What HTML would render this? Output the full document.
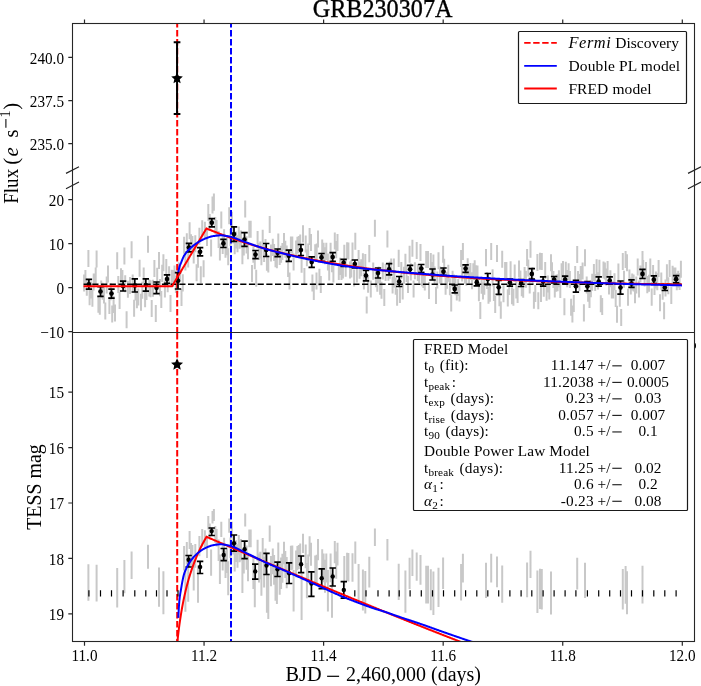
<!DOCTYPE html><html><head><meta charset="utf-8"><style>html,body{margin:0;padding:0;background:#fff;}svg{display:block;will-change:transform;}</style></head><body>
<svg width="701" height="686" viewBox="0 0 701 686" style="font-family:'Liberation Serif', serif">
<rect width="701" height="686" fill="#fff"/>
<defs><clipPath id="cu"><rect x="72.5" y="23.5" width="622.0" height="309.0"/></clipPath><clipPath id="cl"><rect x="72.5" y="332.5" width="622.0" height="309.0"/></clipPath></defs>
<g clip-path="url(#cu)">
<path d="M84.1 274.5V291.5M85.4 269.9V286.9M86.8 278.7V295.7M88.4 250.1V267.1M89.6 288.2V305.3M91.0 281.5V298.5M92.4 289.8V306.8M93.7 273.6V290.6M95.7 267.5V284.5M96.6 250.4V267.4M98.4 295.8V312.8M99.8 297.8V314.8M101.2 280.6V297.7M102.6 282.7V299.7M104.0 286.6V303.6M105.3 302.6V319.6M106.7 276.6V293.6M108.0 265.4V282.5M109.4 296.9V313.9M110.8 283.2V300.3M112.2 305.5V322.5M113.6 296.1V313.1M115.0 304.6V321.6M117.2 252.3V269.3M118.3 276.0V293.0M119.6 291.9V309.0M121.0 268.2V285.2M122.4 270.0V287.0M124.4 247.4V264.4M125.2 275.3V292.3M126.6 311.2V328.3M127.9 280.7V297.7M130.0 276.9V293.9M131.6 241.2V258.2M132.7 274.4V291.4M134.1 299.7V316.7M135.5 283.5V300.5M136.9 291.2V308.2M138.3 288.6V305.6M139.6 259.7V276.8M141.0 293.7V310.7M142.3 281.8V298.8M143.7 267.6V284.6M145.1 290.3V307.3M146.5 283.0V300.0M148.0 235.8V252.8M149.3 279.5V296.6M150.6 280.3V297.3M151.7 299.9V316.9M153.0 279.8V296.8M154.4 260.0V277.0M155.8 304.9V321.9M157.2 267.7V284.7M159.0 252.1V269.1M160.0 279.1V296.2M161.3 290.9V307.9M162.2 264.8V281.9M163.4 254.2V271.2M164.9 280.4V297.4M166.3 258.9V275.9M167.7 275.2V292.3M169.1 266.2V283.2M170.5 295.1V312.1M171.8 269.8V286.8M173.2 269.9V287.0M174.5 265.5V282.5M175.9 275.8V292.9M177.3 276.3V293.3M178.7 262.3V279.3M180.1 265.1V282.1M181.5 289.1V306.1M182.8 274.3V291.4M184.1 236.7V253.7M185.4 253.5V270.5M186.8 233.2V250.3M188.2 250.5V267.5M189.6 222.2V239.3M191.0 234.3V251.3M192.4 235.9V252.9M193.7 246.4V263.4M195.3 235.2V252.2M196.6 264.2V281.2M198.0 250.8V267.8M199.4 227.7V244.8M200.8 266.2V283.2M202.2 220.3V237.3M203.6 260.3V277.3M204.9 221.7V238.7M207.0 228.9V246.0M208.3 203.9V220.9M209.7 213.9V230.9M211.1 239.6V256.6M212.5 196.6V213.6M213.9 193.6V210.7M215.3 216.9V233.9M216.6 220.1V237.1M218.6 230.9V248.0M219.9 243.5V260.5M221.3 211.5V228.5M222.7 236.8V253.9M224.1 229.3V246.3M225.5 240.7V257.7M226.9 238.1V255.2M228.2 248.2V265.2M229.2 207.2V224.2M230.5 228.9V246.0M231.9 211.7V228.7M233.3 226.4V243.4M234.7 237.3V254.3M236.1 231.6V248.6M237.5 235.2V252.2M238.8 226.4V243.5M239.7 231.8V248.8M241.0 230.6V247.6M242.4 247.3V264.3M243.8 238.4V255.5M245.2 200.5V217.5M246.6 236.3V253.4M248.0 242.3V259.3M249.3 220.8V237.8M250.7 220.8V237.8M252.0 264.9V282.0M253.4 245.7V262.7M254.8 252.2V269.3M256.2 269.7V286.7M257.6 231.1V248.2M259.0 242.9V259.9M260.3 241.4V258.4M261.4 248.3V265.3M262.7 229.7V246.7M264.1 245.0V262.1M265.5 238.9V255.9M266.9 253.8V270.8M268.3 255.5V272.5M269.7 216.1V233.1M271.0 244.5V261.6M272.8 238.8V255.9M274.1 243.9V260.9M275.5 250.1V267.2M276.9 251.2V268.2M278.3 233.6V250.6M279.7 248.0V265.0M281.1 245.7V262.7M282.4 243.0V260.0M284.0 233.1V250.1M285.3 240.8V257.8M286.7 245.4V262.4M288.1 260.0V277.0M289.5 272.6V289.6M290.9 236.6V253.6M292.3 236.4V253.4M293.6 253.5V270.5M296.1 240.4V257.4M297.4 236.7V253.7M298.8 235.9V252.9M300.2 234.5V251.5M301.6 255.8V272.8M303.0 225.3V242.4M304.4 268.0V285.0M305.7 235.4V252.4M306.9 249.2V266.3M308.2 243.4V260.4M309.6 227.9V244.9M311.0 234.0V251.0M312.4 274.5V291.6M313.8 282.9V300.0M315.2 244.3V261.3M316.5 272.5V289.6M316.7 243.6V260.6M318.0 230.5V247.5M319.4 268.8V285.8M320.8 276.0V293.0M322.2 239.4V256.4M323.6 242.7V259.8M325.0 247.2V264.2M326.3 242.8V259.9M327.9 253.5V270.5M329.2 263.5V280.6M330.6 242.8V259.8M332.0 255.2V272.2M333.4 265.5V282.6M334.8 232.4V249.4M336.2 241.1V258.2M337.5 233.9V250.9M338.8 263.0V280.0M340.1 257.8V274.9M341.5 263.1V280.1M342.9 261.4V278.4M344.3 244.7V261.7M345.7 259.8V276.8M347.1 242.2V259.2M348.4 242.4V259.5M350.0 261.6V278.6M351.3 260.3V277.4M352.5 242.5V259.6M354.1 269.5V286.5M355.3 232.7V249.8M356.9 265.5V282.6M358.6 249.9V267.0M359.6 261.7V278.7M361.2 259.2V276.2M362.9 253.2V270.2M363.9 272.4V289.4M365.3 254.1V271.1M366.7 296.5V313.5M368.1 275.8V292.8M369.3 245.1V262.2M370.8 280.5V297.6M373.2 262.6V279.7M374.9 219.7V236.8M375.9 270.2V287.2M377.3 274.6V291.7M378.7 266.6V283.6M380.1 277.7V294.8M381.5 281.8V298.8M382.8 262.6V279.6M384.3 288.9V306.0M385.6 264.1V281.1M387.4 230.6V247.6M388.4 263.7V280.7M389.8 261.6V278.7M391.2 258.4V275.4M392.6 276.4V293.4M393.9 258.4V275.4M394.4 270.4V287.5M395.7 277.7V294.7M397.1 288.8V305.8M398.7 249.8V266.9M399.9 285.9V302.9M401.3 262.1V279.1M402.7 282.5V299.6M404.0 266.7V283.7M405.4 253.8V270.9M406.6 264.9V282.0M408.0 275.9V292.9M409.6 245.7V262.8M410.8 263.3V280.4M412.4 239.8V256.8M413.6 280.5V297.5M414.9 262.2V279.3M416.7 242.1V259.1M417.8 264.0V281.0M419.2 266.0V283.0M420.5 243.9V261.0M422.0 269.3V286.3M423.4 270.9V287.9M424.8 273.5V290.5M426.2 251.0V268.1M428.0 251.0V268.1M429.0 282.0V299.1M430.8 253.1V270.2M431.8 262.0V279.0M433.4 254.4V271.4M434.6 266.6V283.7M436.0 287.1V304.1M437.3 271.6V288.6M438.5 252.2V269.2M440.0 266.4V283.4M441.4 268.2V285.3M443.1 245.7V262.7M444.2 258.7V275.7M445.6 277.8V294.8M447.0 271.7V288.8M448.3 264.8V281.8M449.9 278.3V295.3M451.2 294.5V311.5M452.6 270.8V287.8M454.0 274.5V291.5M455.4 278.3V295.3M456.8 283.5V300.5M458.2 278.9V295.9M459.5 284.4V301.5M461.1 250.0V267.0M462.1 264.3V281.4M462.9 242.9V259.9M464.9 266.7V283.7M466.3 268.7V285.7M467.7 258.3V275.4M469.1 266.7V283.7M470.4 263.0V280.0M472.0 272.2V289.2M473.3 263.3V280.3M474.7 260.2V277.3M476.1 265.3V282.3M477.5 265.4V282.4M478.9 284.3V301.3M480.3 302.0V319.0M481.6 276.8V293.8M483.0 282.4V299.4M484.3 277.7V294.7M486.0 249.1V266.2M487.1 271.9V288.9M488.5 286.8V303.8M489.9 284.8V301.8M491.2 242.9V259.9M492.6 269.2V286.2M493.9 284.1V301.1M495.2 296.0V313.0M497.0 245.0V262.0M498.0 278.2V295.2M499.4 289.3V306.3M500.8 301.6V318.7M502.2 250.8V267.8M503.5 285.3V302.3M505.1 261.9V278.9M506.4 261.9V278.9M507.8 289.3V306.4M509.2 278.0V295.1M510.6 261.2V278.3M512.0 287.3V304.3M513.4 288.7V305.7M514.7 264.4V281.4M516.3 281.4V298.4M517.6 285.9V302.9M519.0 260.6V277.6M520.4 270.4V287.4M521.8 279.3V296.3M523.2 280.7V297.7M524.6 267.1V284.1M525.9 270.7V287.7M527.1 248.9V265.9M528.3 259.4V276.4M529.7 276.6V293.6M530.5 240.7V257.7M532.5 266.9V283.9M533.9 291.7V308.7M535.3 285.1V302.1M537.4 253.9V270.9M538.3 292.2V309.2M540.0 252.8V269.8M541.0 285.1V302.1M541.8 252.9V270.0M543.8 279.8V296.8M545.2 261.9V278.9M546.6 283.7V300.7M547.9 275.6V292.6M549.3 282.5V299.5M551.0 254.3V271.3M552.0 262.2V279.3M553.4 270.9V287.9M554.8 280.4V297.4M556.2 274.7V291.8M557.6 274.2V291.2M558.9 270.3V287.3M560.3 281.0V298.1M561.6 263.2V280.2M563.0 261.1V278.1M564.4 298.2V315.2M565.8 261.8V278.8M567.2 270.1V287.2M568.6 263.2V280.3M569.9 270.9V287.9M571.1 298.7V315.7M572.4 305.6V322.6M573.8 295.0V312.0M575.2 266.1V283.1M577.2 245.9V262.9M578.0 271.0V288.0M579.4 274.1V291.1M580.7 265.9V282.9M582.6 262.6V279.6M583.9 304.3V321.4M585.0 249.2V266.2M586.7 276.5V293.5M588.1 284.7V301.7M589.5 290.9V307.9M590.9 280.3V297.3M592.2 273.8V290.8M593.9 264.0V281.0M595.2 273.9V291.0M596.6 259.2V276.2M598.0 272.3V289.4M599.4 259.8V276.8M600.8 295.3V312.3M602.2 297.9V314.9M603.5 261.6V278.6M604.9 262.4V279.5M606.2 268.6V285.6M607.6 260.9V277.9M609.0 277.6V294.6M610.4 270.3V287.3M611.8 281.4V298.5M613.2 281.3V298.4M614.5 273.3V290.3M615.7 289.9V306.9M617.0 305.8V322.8M618.4 263.5V280.5M619.8 289.8V306.8M621.2 309.1V326.1M622.8 252.9V269.9M624.0 270.7V287.7M625.6 251.1V268.1M627.0 254.2V271.3M628.0 288.8V305.8M629.4 269.4V286.4M630.8 277.5V294.5M632.2 273.4V290.4M633.6 274.6V291.6M635.0 286.1V303.2M636.3 276.6V293.6M637.7 258.6V275.6M639.0 280.4V297.4M640.4 265.5V282.5M642.5 251.1V268.1M643.2 260.0V277.0M644.6 269.6V286.6M646.0 261.9V278.9M647.3 276.1V293.2M649.0 274.7V291.7M650.3 258.6V275.6M651.7 288.6V305.7M653.1 265.0V282.0M654.5 277.9V294.9M655.9 271.4V288.4M657.3 273.3V290.3M658.6 260.0V277.0M660.0 294.3V311.3M661.3 272.6V289.7M662.7 282.7V299.7M664.1 302.2V319.2M665.5 279.6V296.6M666.9 264.2V281.2M668.3 277.2V294.3M669.6 259.9V276.9M671.3 286.9V303.9M672.6 265.8V282.9M674.0 267.6V284.6M675.4 267.4V284.4M676.8 273.3V290.3M678.2 270.7V287.7M679.6 273.0V290.0M680.9 260.8V277.8" stroke="#c8c8c8" stroke-width="2" fill="none"/>
<line x1="83.6" y1="284.3" x2="682" y2="284.3" stroke="#000" stroke-width="1.6" stroke-dasharray="6.2 2.5"/>
<line x1="177.2" y1="332.5" x2="177.2" y2="23.5" stroke="#ff0000" stroke-width="2" stroke-dasharray="6.4 2.6" stroke-dashoffset="1"/>
<line x1="231.0" y1="332.5" x2="231.0" y2="23.5" stroke="#0000ff" stroke-width="2" stroke-dasharray="6.4 2.6" stroke-dashoffset="1"/>
<path d="M88.9 279.4V289.2M85.7 279.4H92.1M85.7 289.2H92.1M100.5 286.6V296.4M97.3 286.6H103.7M97.3 296.4H103.7M111.5 289.1V298.1M108.3 289.1H114.7M108.3 298.1H114.7M123.1 281.2V291.0M119.9 281.2H126.3M119.9 291.0H126.3M134.8 278.8V292.0M131.6 278.8H138.0M131.6 292.0H138.0M145.8 278.8V291.2M142.6 278.8H149.0M142.6 291.2H149.0M156.5 282.0V293.6M153.3 282.0H159.7M153.3 293.6H159.7M167.0 274.8V283.4M163.8 274.8H170.2M163.8 283.4H170.2M178.0 272.6V289.0M174.8 272.6H181.2M174.8 289.0H181.2M188.9 243.4V251.8M185.7 243.4H192.1M185.7 251.8H192.1M200.1 247.7V255.9M196.9 247.7H203.3M196.9 255.9H203.3M211.8 218.6V226.8M208.6 218.6H215.0M208.6 226.8H215.0M223.4 239.3V247.5M220.2 239.3H226.6M220.2 247.5H226.6M234.0 226.9V241.3M230.8 226.9H237.2M230.8 241.3H237.2M244.5 232.7V246.3M241.3 232.7H247.7M241.3 246.3H247.7M255.5 250.5V258.7M252.3 250.5H258.7M252.3 258.7H258.7M266.2 243.5V256.5M263.0 243.5H269.4M263.0 256.5H269.4M277.6 249.0V256.6M274.4 249.0H280.8M274.4 256.6H280.8M288.8 250.2V261.4M285.6 250.2H292.0M285.6 261.4H292.0M300.9 244.5V255.5M297.7 244.5H304.1M297.7 255.5H304.1M311.7 256.9V267.3M308.5 256.9H314.9M308.5 267.3H314.9M321.5 253.5V261.3M318.3 253.5H324.7M318.3 261.3H324.7M332.7 252.6V261.4M329.5 252.6H335.9M329.5 261.4H335.9M343.6 259.3V266.3M340.4 259.3H346.8M340.4 266.3H346.8M354.8 260.0V268.0M351.6 260.0H358.0M351.6 268.0H358.0M366.0 270.4V280.8M362.8 270.4H369.2M362.8 280.8H369.2M378.0 268.0V278.0M374.8 268.0H381.2M374.8 278.0H381.2M389.1 263.7V274.9M385.9 263.7H392.3M385.9 274.9H392.3M399.2 276.5V286.5M396.0 276.5H402.4M396.0 286.5H402.4M410.1 265.4V273.2M406.9 265.4H413.3M406.9 273.2H413.3M421.3 264.5V272.7M418.1 264.5H424.5M418.1 272.7H424.5M432.5 269.0V280.0M429.3 269.0H435.7M429.3 280.0H435.7M443.5 268.0V275.4M440.3 268.0H446.7M440.3 275.4H446.7M454.7 285.0V292.8M451.5 285.0H457.9M451.5 292.8H457.9M465.6 264.8V272.4M462.4 264.8H468.8M462.4 272.4H468.8M476.8 278.5V285.9M473.6 278.5H480.0M473.6 285.9H480.0M487.8 273.5V284.7M484.6 273.5H491.0M484.6 284.7H491.0M498.7 280.3V294.3M495.5 280.3H501.9M495.5 294.3H501.9M509.9 279.1V286.1M506.7 279.1H513.1M506.7 286.1H513.1M521.1 279.5V286.5M517.9 279.5H524.3M517.9 286.5H524.3M531.8 268.7V279.1M528.6 268.7H535.0M528.6 279.1H535.0M543.1 276.9V286.1M539.9 276.9H546.3M539.9 286.1H546.3M554.1 276.5V282.9M550.9 276.5H557.3M550.9 282.9H557.3M565.1 276.1V283.3M561.9 276.1H568.3M561.9 283.3H568.3M575.9 280.4V292.2M572.7 280.4H579.1M572.7 292.2H579.1M587.4 281.7V290.9M584.2 281.7H590.6M584.2 290.9H590.6M598.7 276.9V286.1M595.5 276.9H601.9M595.5 286.1H601.9M609.7 276.9V284.1M606.5 276.9H612.9M606.5 284.1H612.9M620.5 281.0V294.2M617.3 281.0H623.7M617.3 294.2H623.7M631.5 279.9V287.3M628.3 279.9H634.7M628.3 287.3H634.7M642.5 269.3V278.5M639.3 269.3H645.7M639.3 278.5H645.7M653.8 275.8V283.6M650.6 275.8H657.0M650.6 283.6H657.0M664.8 284.7V290.5M661.6 284.7H668.0M661.6 290.5H668.0M676.1 275.6V282.8M672.9 275.6H679.3M672.9 282.8H679.3" stroke="#000" stroke-width="1.7" fill="none"/>
<g fill="#000"><circle cx="88.9" cy="284.3" r="2.35"/><circle cx="100.5" cy="291.5" r="2.35"/><circle cx="111.5" cy="293.6" r="2.35"/><circle cx="123.1" cy="286.1" r="2.35"/><circle cx="134.8" cy="285.4" r="2.35"/><circle cx="145.8" cy="285.0" r="2.35"/><circle cx="156.5" cy="287.8" r="2.35"/><circle cx="167.0" cy="279.1" r="2.35"/><circle cx="178.0" cy="280.8" r="2.35"/><circle cx="188.9" cy="247.6" r="2.35"/><circle cx="200.1" cy="251.8" r="2.35"/><circle cx="211.8" cy="222.7" r="2.35"/><circle cx="223.4" cy="243.4" r="2.35"/><circle cx="234.0" cy="234.1" r="2.35"/><circle cx="244.5" cy="239.5" r="2.35"/><circle cx="255.5" cy="254.6" r="2.35"/><circle cx="266.2" cy="250.0" r="2.35"/><circle cx="277.6" cy="252.8" r="2.35"/><circle cx="288.8" cy="255.8" r="2.35"/><circle cx="300.9" cy="250.0" r="2.35"/><circle cx="311.7" cy="262.1" r="2.35"/><circle cx="321.5" cy="257.4" r="2.35"/><circle cx="332.7" cy="257.0" r="2.35"/><circle cx="343.6" cy="262.8" r="2.35"/><circle cx="354.8" cy="264.0" r="2.35"/><circle cx="366.0" cy="275.6" r="2.35"/><circle cx="378.0" cy="273.0" r="2.35"/><circle cx="389.1" cy="269.3" r="2.35"/><circle cx="399.2" cy="281.5" r="2.35"/><circle cx="410.1" cy="269.3" r="2.35"/><circle cx="421.3" cy="268.6" r="2.35"/><circle cx="432.5" cy="274.5" r="2.35"/><circle cx="443.5" cy="271.7" r="2.35"/><circle cx="454.7" cy="288.9" r="2.35"/><circle cx="465.6" cy="268.6" r="2.35"/><circle cx="476.8" cy="282.2" r="2.35"/><circle cx="487.8" cy="279.1" r="2.35"/><circle cx="498.7" cy="287.3" r="2.35"/><circle cx="509.9" cy="282.6" r="2.35"/><circle cx="521.1" cy="283.0" r="2.35"/><circle cx="531.8" cy="273.9" r="2.35"/><circle cx="543.1" cy="281.5" r="2.35"/><circle cx="554.1" cy="279.7" r="2.35"/><circle cx="565.1" cy="279.7" r="2.35"/><circle cx="575.9" cy="286.3" r="2.35"/><circle cx="587.4" cy="286.3" r="2.35"/><circle cx="598.7" cy="281.5" r="2.35"/><circle cx="609.7" cy="280.5" r="2.35"/><circle cx="620.5" cy="287.6" r="2.35"/><circle cx="631.5" cy="283.6" r="2.35"/><circle cx="642.5" cy="273.9" r="2.35"/><circle cx="653.8" cy="279.7" r="2.35"/><circle cx="664.8" cy="287.6" r="2.35"/><circle cx="676.1" cy="279.2" r="2.35"/></g>
<path d="M177.05 42.3V114M173.7 42.3H180.4M173.7 114H180.4" stroke="#000" stroke-width="2" fill="none"/>
<path d="M83.50 286.32 L172.00 286.32 L172.50 285.48 L173.00 284.64 L173.50 283.80 L174.00 282.96 L174.50 282.13 L175.00 281.29 L175.50 280.45 L176.00 279.61 L176.50 278.77 L177.00 277.93 L177.50 277.09 L178.00 276.25 L178.50 275.41 L179.00 274.57 L179.50 273.73 L180.00 272.89 L180.50 272.06 L181.00 271.22 L181.50 270.38 L182.00 269.54 L182.50 268.70 L183.00 267.86 L183.50 267.02 L184.00 266.18 L184.50 265.34 L185.00 264.50 L185.50 263.66 L186.00 262.82 L186.50 261.98 L187.00 261.15 L187.50 260.31 L188.00 259.47 L188.50 258.63 L189.00 257.79 L189.50 256.95 L190.00 256.11 L190.50 255.27 L191.00 254.43 L191.50 253.59 L192.00 252.75 L192.50 251.91 L193.00 251.08 L193.50 250.24 L194.00 249.40 L194.50 248.56 L195.00 247.72 L195.50 246.88 L196.00 246.04 L196.50 245.20 L197.00 244.36 L197.50 243.52 L198.00 242.68 L198.50 241.84 L199.00 241.01 L199.50 240.17 L200.00 239.33 L200.50 238.49 L201.00 237.65 L201.50 236.81 L202.00 235.97 L202.50 235.13 L203.00 234.29 L203.50 233.45 L204.00 232.61 L204.50 231.77 L205.00 230.94 L205.50 230.10 L206.00 229.26 L206.50 228.42 L207.00 228.63 L208.00 229.05 L209.00 229.47 L210.00 229.88 L211.00 230.29 L212.00 230.70 L213.00 231.10 L214.00 231.50 L215.00 231.90 L216.00 232.30 L217.00 232.69 L218.00 233.08 L219.00 233.47 L220.00 233.86 L221.00 234.24 L222.00 234.62 L223.00 234.99 L224.00 235.37 L225.00 235.74 L226.00 236.11 L227.00 236.47 L228.00 236.83 L229.00 237.19 L230.00 237.55 L231.00 237.91 L232.00 238.26 L233.00 238.61 L234.00 238.96 L235.00 239.30 L236.00 239.64 L237.00 239.98 L238.00 240.32 L239.00 240.65 L240.00 240.99 L241.00 241.32 L242.00 241.64 L243.00 241.97 L244.00 242.29 L245.00 242.61 L246.00 242.93 L247.00 243.25 L248.00 243.56 L249.00 243.87 L250.00 244.18 L251.00 244.49 L252.00 244.79 L253.00 245.09 L254.00 245.39 L255.00 245.69 L256.00 245.99 L257.00 246.28 L258.00 246.57 L259.00 246.86 L260.00 247.15 L261.00 247.43 L262.00 247.72 L263.00 248.00 L264.00 248.28 L265.00 248.55 L266.00 248.83 L267.00 249.10 L268.00 249.37 L269.00 249.64 L270.00 249.91 L271.00 250.17 L272.00 250.44 L273.00 250.70 L274.00 250.96 L275.00 251.21 L276.00 251.47 L277.00 251.72 L278.00 251.98 L279.00 252.23 L280.00 252.47 L281.00 252.72 L282.00 252.96 L283.00 253.21 L284.00 253.45 L285.00 253.69 L286.00 253.92 L287.00 254.16 L288.00 254.39 L289.00 254.63 L290.00 254.86 L291.00 255.09 L292.00 255.31 L293.00 255.54 L294.00 255.76 L295.00 255.99 L296.00 256.21 L297.00 256.43 L298.00 256.64 L299.00 256.86 L300.00 257.07 L301.00 257.29 L302.00 257.50 L303.00 257.71 L304.00 257.92 L305.00 258.12 L306.00 258.33 L307.00 258.53 L308.00 258.73 L309.00 258.94 L310.00 259.13 L311.00 259.33 L312.00 259.53 L313.00 259.72 L314.00 259.92 L315.00 260.11 L316.00 260.30 L317.00 260.49 L318.00 260.68 L319.00 260.86 L320.00 261.05 L321.00 261.23 L322.00 261.42 L323.00 261.60 L324.00 261.78 L325.00 261.96 L326.00 262.13 L327.00 262.31 L328.00 262.48 L329.00 262.66 L330.00 262.83 L331.00 263.00 L332.00 263.17 L333.00 263.34 L334.00 263.51 L335.00 263.67 L336.00 263.84 L337.00 264.00 L338.00 264.16 L339.00 264.32 L340.00 264.48 L341.00 264.64 L342.00 264.80 L343.00 264.96 L344.00 265.11 L345.00 265.27 L346.00 265.42 L347.00 265.57 L348.00 265.72 L349.00 265.87 L350.00 266.02 L351.00 266.17 L352.00 266.32 L353.00 266.46 L354.00 266.61 L355.00 266.75 L356.00 266.89 L357.00 267.03 L358.00 267.18 L359.00 267.31 L360.00 267.45 L361.00 267.59 L362.00 267.73 L363.00 267.86 L364.00 268.00 L365.00 268.13 L366.00 268.26 L367.00 268.39 L368.00 268.52 L369.00 268.65 L370.00 268.78 L371.00 268.91 L372.00 269.04 L373.00 269.16 L374.00 269.29 L375.00 269.41 L376.00 269.53 L377.00 269.66 L378.00 269.78 L379.00 269.90 L380.00 270.02 L381.00 270.14 L382.00 270.25 L383.00 270.37 L384.00 270.49 L385.00 270.60 L386.00 270.72 L387.00 270.83 L388.00 270.94 L389.00 271.05 L390.00 271.17 L391.00 271.28 L392.00 271.39 L393.00 271.49 L394.00 271.60 L395.00 271.71 L396.00 271.82 L397.00 271.92 L398.00 272.03 L399.00 272.13 L400.00 272.23 L401.00 272.34 L402.00 272.44 L403.00 272.54 L404.00 272.64 L405.00 272.74 L406.00 272.84 L407.00 272.94 L408.00 273.03 L409.00 273.13 L410.00 273.23 L411.00 273.32 L412.00 273.42 L413.00 273.51 L414.00 273.60 L415.00 273.70 L416.00 273.79 L417.00 273.88 L418.00 273.97 L419.00 274.06 L420.00 274.15 L421.00 274.24 L422.00 274.32 L423.00 274.41 L424.00 274.50 L425.00 274.58 L426.00 274.67 L427.00 274.76 L428.00 274.84 L429.00 274.92 L430.00 275.01 L431.00 275.09 L432.00 275.17 L433.00 275.25 L434.00 275.33 L435.00 275.41 L436.00 275.49 L437.00 275.57 L438.00 275.65 L439.00 275.73 L440.00 275.80 L441.00 275.88 L442.00 275.96 L443.00 276.03 L444.00 276.11 L445.00 276.18 L446.00 276.25 L447.00 276.33 L448.00 276.40 L449.00 276.47 L450.00 276.54 L451.00 276.62 L452.00 276.69 L453.00 276.76 L454.00 276.83 L455.00 276.89 L456.00 276.96 L457.00 277.03 L458.00 277.10 L459.00 277.17 L460.00 277.23 L461.00 277.30 L462.00 277.36 L463.00 277.43 L464.00 277.49 L465.00 277.56 L466.00 277.62 L467.00 277.69 L468.00 277.75 L469.00 277.81 L470.00 277.87 L471.00 277.93 L472.00 278.00 L473.00 278.06 L474.00 278.12 L475.00 278.18 L476.00 278.24 L477.00 278.29 L478.00 278.35 L479.00 278.41 L480.00 278.47 L481.00 278.53 L482.00 278.58 L483.00 278.64 L484.00 278.69 L485.00 278.75 L486.00 278.80 L487.00 278.86 L488.00 278.91 L489.00 278.97 L490.00 279.02 L491.00 279.07 L492.00 279.13 L493.00 279.18 L494.00 279.23 L495.00 279.28 L496.00 279.33 L497.00 279.39 L498.00 279.44 L499.00 279.49 L500.00 279.54 L501.00 279.58 L502.00 279.63 L503.00 279.68 L504.00 279.73 L505.00 279.78 L506.00 279.83 L507.00 279.87 L508.00 279.92 L509.00 279.97 L510.00 280.01 L511.00 280.06 L512.00 280.10 L513.00 280.15 L514.00 280.20 L515.00 280.24 L516.00 280.28 L517.00 280.33 L518.00 280.37 L519.00 280.41 L520.00 280.46 L521.00 280.50 L522.00 280.54 L523.00 280.58 L524.00 280.63 L525.00 280.67 L526.00 280.71 L527.00 280.75 L528.00 280.79 L529.00 280.83 L530.00 280.87 L531.00 280.91 L532.00 280.95 L533.00 280.99 L534.00 281.03 L535.00 281.07 L536.00 281.10 L537.00 281.14 L538.00 281.18 L539.00 281.22 L540.00 281.25 L541.00 281.29 L542.00 281.33 L543.00 281.36 L544.00 281.40 L545.00 281.44 L546.00 281.47 L547.00 281.51 L548.00 281.54 L549.00 281.58 L550.00 281.61 L551.00 281.65 L552.00 281.68 L553.00 281.71 L554.00 281.75 L555.00 281.78 L556.00 281.81 L557.00 281.85 L558.00 281.88 L559.00 281.91 L560.00 281.94 L561.00 281.98 L562.00 282.01 L563.00 282.04 L564.00 282.07 L565.00 282.10 L566.00 282.13 L567.00 282.16 L568.00 282.19 L569.00 282.22 L570.00 282.25 L571.00 282.28 L572.00 282.31 L573.00 282.34 L574.00 282.37 L575.00 282.40 L576.00 282.43 L577.00 282.45 L578.00 282.48 L579.00 282.51 L580.00 282.54 L581.00 282.57 L582.00 282.59 L583.00 282.62 L584.00 282.65 L585.00 282.67 L586.00 282.70 L587.00 282.73 L588.00 282.75 L589.00 282.78 L590.00 282.80 L591.00 282.83 L592.00 282.86 L593.00 282.88 L594.00 282.91 L595.00 282.93 L596.00 282.96 L597.00 282.98 L598.00 283.00 L599.00 283.03 L600.00 283.05 L601.00 283.08 L602.00 283.10 L603.00 283.12 L604.00 283.15 L605.00 283.17 L606.00 283.19 L607.00 283.22 L608.00 283.24 L609.00 283.26 L610.00 283.28 L611.00 283.30 L612.00 283.33 L613.00 283.35 L614.00 283.37 L615.00 283.39 L616.00 283.41 L617.00 283.43 L618.00 283.46 L619.00 283.48 L620.00 283.50 L621.00 283.52 L622.00 283.54 L623.00 283.56 L624.00 283.58 L625.00 283.60 L626.00 283.62 L627.00 283.64 L628.00 283.66 L629.00 283.68 L630.00 283.70 L631.00 283.71 L632.00 283.73 L633.00 283.75 L634.00 283.77 L635.00 283.79 L636.00 283.81 L637.00 283.83 L638.00 283.84 L639.00 283.86 L640.00 283.88 L641.00 283.90 L642.00 283.92 L643.00 283.93 L644.00 283.95 L645.00 283.97 L646.00 283.99 L647.00 284.00 L648.00 284.02 L649.00 284.04 L650.00 284.05 L651.00 284.07 L652.00 284.09 L653.00 284.10 L654.00 284.12 L655.00 284.13 L656.00 284.15 L657.00 284.17 L658.00 284.18 L659.00 284.20 L660.00 284.21 L661.00 284.23 L662.00 284.24 L663.00 284.26 L664.00 284.27 L665.00 284.29 L666.00 284.30 L667.00 284.32 L668.00 284.33 L669.00 284.35 L670.00 284.36 L671.00 284.38 L672.00 284.39 L673.00 284.40 L674.00 284.42 L675.00 284.43 L676.00 284.45 L677.00 284.46 L678.00 284.47 L679.00 284.49 L680.00 284.50 L681.00 284.51 L682.00 284.53" stroke="#ff0000" stroke-width="2" fill="none" stroke-linejoin="miter"/>
<path d="M178.30 272.21 L178.50 271.11 L179.00 268.60 L179.50 266.58 L180.00 265.15 L180.50 264.02 L181.00 262.90 L181.50 261.65 L182.00 260.36 L182.50 259.11 L183.00 257.95 L183.50 256.83 L184.00 255.85 L184.50 255.03 L185.00 254.31 L185.50 253.63 L186.00 252.98 L186.50 252.33 L187.00 251.71 L187.50 251.11 L188.00 250.54 L188.50 250.01 L189.00 249.51 L189.50 249.02 L190.00 248.54 L190.50 248.07 L191.00 247.61 L191.50 247.16 L192.00 246.72 L192.50 246.30 L193.00 245.88 L193.50 245.48 L194.00 245.09 L194.50 244.71 L195.00 244.34 L195.50 243.98 L196.00 243.64 L196.50 243.30 L197.00 242.97 L197.50 242.64 L198.00 242.32 L198.50 242.01 L199.00 241.70 L199.50 241.40 L200.00 241.11 L200.50 240.82 L201.00 240.55 L201.50 240.28 L202.00 240.01 L202.50 239.76 L203.00 239.52 L203.50 239.29 L204.00 239.06 L204.50 238.85 L205.00 238.65 L205.50 238.45 L206.00 238.26 L206.50 238.07 L207.00 237.88 L207.50 237.70 L208.00 237.52 L208.50 237.34 L209.00 237.17 L209.50 237.01 L210.00 236.86 L210.50 236.71 L211.00 236.57 L211.50 236.44 L212.00 236.32 L212.50 236.21 L213.00 236.12 L213.50 236.03 L214.00 235.96 L214.50 235.89 L215.00 235.81 L215.50 235.75 L216.00 235.68 L216.50 235.61 L217.00 235.56 L217.50 235.50 L218.00 235.45 L218.50 235.41 L219.00 235.38 L219.50 235.36 L220.00 235.35 L220.50 235.34 L221.00 235.35 L221.50 235.37 L222.00 235.40 L222.50 235.43 L223.00 235.48 L223.50 235.53 L224.00 235.60 L224.50 235.66 L225.00 235.74 L225.50 235.81 L226.00 235.89 L226.50 235.98 L227.00 236.07 L227.50 236.16 L228.00 236.25 L228.50 236.34 L229.00 236.43 L229.50 236.52 L230.00 236.62 L230.50 236.74 L231.00 236.86 L231.50 237.00 L232.00 237.14 L232.50 237.29 L233.00 237.45 L233.50 237.61 L234.00 237.78 L234.50 237.96 L235.00 238.14 L235.50 238.33 L236.00 238.52 L236.50 238.72 L237.00 238.91 L237.50 239.11 L238.00 239.31 L238.50 239.51 L239.00 239.72 L239.50 239.92 L240.00 240.12 L240.50 240.32 L241.00 240.51 L241.50 240.71 L242.00 240.90 L242.50 241.09 L243.00 241.27 L243.50 241.45 L244.00 241.62 L244.50 241.79 L245.00 241.97 L245.50 242.14 L246.00 242.32 L246.50 242.49 L247.00 242.67 L247.50 242.85 L248.00 243.03 L248.50 243.20 L249.00 243.38 L249.50 243.56 L250.00 243.74 L250.50 243.92 L251.00 244.10 L251.50 244.28 L252.00 244.46 L252.50 244.63 L253.00 244.81 L253.50 244.99 L254.00 245.17 L254.50 245.34 L255.00 245.52 L255.50 245.70 L256.00 245.87 L256.50 246.04 L257.00 246.22 L257.50 246.39 L258.00 246.56 L258.50 246.73 L259.00 246.90 L259.50 247.06 L260.00 247.23 L260.50 247.39 L261.00 247.56 L261.50 247.72 L262.00 247.88 L262.50 248.03 L263.00 248.19 L263.50 248.34 L264.00 248.49 L264.50 248.64 L265.00 248.79 L265.50 248.94 L266.00 249.08 L266.50 249.22 L267.00 249.37 L267.50 249.51 L268.00 249.64 L268.50 249.78 L269.00 249.92 L269.50 250.05 L270.00 250.19 L270.50 250.32 L271.00 250.45 L271.50 250.58 L272.00 250.71 L272.50 250.84 L273.00 250.97 L273.50 251.10 L274.00 251.22 L274.50 251.35 L275.00 251.48 L275.50 251.60 L276.00 251.73 L276.50 251.85 L277.00 251.97 L277.50 252.10 L278.00 252.22 L278.50 252.34 L279.00 252.47 L279.50 252.59 L280.00 252.71 L280.50 252.83 L281.00 252.95 L281.50 253.08 L282.00 253.20 L282.50 253.32 L283.00 253.44 L283.50 253.57 L284.00 253.69 L284.50 253.82 L285.00 253.94 L285.50 254.06 L286.00 254.19 L286.50 254.31 L287.00 254.44 L287.50 254.56 L288.00 254.68 L288.50 254.80 L289.00 254.93 L289.50 255.05 L290.00 255.17 L290.50 255.29 L291.00 255.41 L291.50 255.53 L292.00 255.65 L292.50 255.77 L293.00 255.89 L293.50 256.01 L294.00 256.13 L294.50 256.25 L295.00 256.36 L295.50 256.48 L296.00 256.60 L296.50 256.71 L297.00 256.83 L297.50 256.94 L298.00 257.06 L298.50 257.17 L299.00 257.29 L299.50 257.40 L300.00 257.51 L300.50 257.62 L301.00 257.74 L301.50 257.85 L302.00 257.96 L302.50 258.07 L303.00 258.18 L303.50 258.29 L304.00 258.40 L304.50 258.51 L305.00 258.62 L305.50 258.73 L306.00 258.84 L306.50 258.94 L307.00 259.05 L307.50 259.16 L308.00 259.26 L308.50 259.37 L309.00 259.48 L309.50 259.58 L310.00 259.69 L310.50 259.79 L311.00 259.89 L311.50 260.00 L312.00 260.10 L312.50 260.21 L313.00 260.31 L313.50 260.41 L314.00 260.51 L314.50 260.61 L315.00 260.72 L315.50 260.82 L316.00 260.92 L316.50 261.02 L317.00 261.12 L317.50 261.22 L318.00 261.32 L318.50 261.42 L319.00 261.51 L319.50 261.61 L320.00 261.71 L320.50 261.81 L321.00 261.91 L321.50 262.00 L322.00 262.10 L322.50 262.20 L323.00 262.29 L323.50 262.39 L324.00 262.48 L324.50 262.58 L325.00 262.67 L325.50 262.77 L326.00 262.86 L326.50 262.96 L327.00 263.05 L327.50 263.14 L328.00 263.24 L328.50 263.33 L329.00 263.43 L329.50 263.52 L330.00 263.61 L330.50 263.70 L331.00 263.79 L331.50 263.88 L332.00 263.97 L332.50 264.06 L333.00 264.15 L333.50 264.24 L334.00 264.33 L334.50 264.41 L335.00 264.50 L335.50 264.58 L336.00 264.67 L336.50 264.75 L337.00 264.83 L337.50 264.92 L338.00 265.00 L338.50 265.08 L339.00 265.16 L339.50 265.24 L340.00 265.32 L340.50 265.40 L341.00 265.48 L341.50 265.55 L342.00 265.63 L342.50 265.71 L343.00 265.78 L343.50 265.86 L344.00 265.93 L344.50 266.00 L345.00 266.08 L345.50 266.15 L346.00 266.22 L346.50 266.29 L347.00 266.36 L347.50 266.43 L348.00 266.50 L348.50 266.56 L349.00 266.63 L349.50 266.70 L350.00 266.76 L350.50 266.83 L351.00 266.90 L351.50 266.96 L352.00 267.03 L352.50 267.09 L353.00 267.16 L353.50 267.22 L354.00 267.28 L354.50 267.35 L355.00 267.41 L355.50 267.48 L356.00 267.54 L356.50 267.60 L357.00 267.67 L357.50 267.73 L358.00 267.79 L358.50 267.86 L359.00 267.92 L359.50 267.98 L360.00 268.05 L360.50 268.11 L361.00 268.17 L361.50 268.23 L362.00 268.29 L362.50 268.35 L363.00 268.41 L363.50 268.47 L364.00 268.53 L364.50 268.59 L365.00 268.64 L365.50 268.70 L366.00 268.76 L366.50 268.81 L367.00 268.87 L367.50 268.92 L368.00 268.98 L368.50 269.03 L369.00 269.09 L369.50 269.14 L370.00 269.20 L370.50 269.25 L371.00 269.30 L371.50 269.35 L372.00 269.40 L372.50 269.46 L373.00 269.51 L373.50 269.56 L374.00 269.61 L374.50 269.66 L375.00 269.70 L375.50 269.75 L376.00 269.80 L376.50 269.85 L377.00 269.89 L377.50 269.94 L378.00 269.98 L378.50 270.03 L379.00 270.07 L379.50 270.12 L380.00 270.16 L380.50 270.20 L381.00 270.25 L381.50 270.29 L382.00 270.33 L382.50 270.38 L383.00 270.42 L383.50 270.47 L384.00 270.51 L384.50 270.56 L385.00 270.60 L385.50 270.65 L386.00 270.70 L386.50 270.74 L387.00 270.79 L387.50 270.84 L388.00 270.89 L388.50 270.94 L389.00 270.98 L389.50 271.03 L390.00 271.08 L390.50 271.13 L391.00 271.18 L391.50 271.23 L392.00 271.28 L392.50 271.32 L393.00 271.37 L393.50 271.42 L394.00 271.47 L394.50 271.51 L395.00 271.56 L395.50 271.60 L396.00 271.65 L396.50 271.69 L397.00 271.74 L397.50 271.78 L398.00 271.83 L398.50 271.87 L399.00 271.92 L399.50 271.96 L400.00 272.01 L400.50 272.05 L401.00 272.09 L401.50 272.14 L402.00 272.18 L402.50 272.22 L403.00 272.27 L403.50 272.31 L404.00 272.35 L404.50 272.39 L405.00 272.44 L405.50 272.48 L406.00 272.52 L406.50 272.56 L407.00 272.60 L407.50 272.64 L408.00 272.68 L408.50 272.72 L409.00 272.76 L409.50 272.80 L410.00 272.84 L410.50 272.88 L411.00 272.92 L411.50 272.96 L412.00 273.00 L412.50 273.04 L413.00 273.08 L413.50 273.12 L414.00 273.16 L414.50 273.20 L415.00 273.24 L415.50 273.28 L416.00 273.32 L416.50 273.36 L417.00 273.40 L417.50 273.44 L418.00 273.48 L418.50 273.52 L419.00 273.56 L419.50 273.60 L420.00 273.64 L420.50 273.68 L421.00 273.72 L421.50 273.76 L422.00 273.80 L422.50 273.84 L423.00 273.88 L423.50 273.92 L424.00 273.96 L424.50 274.00 L425.00 274.04 L425.50 274.08 L426.00 274.12 L426.50 274.16 L427.00 274.20 L427.50 274.24 L428.00 274.28 L428.50 274.32 L429.00 274.36 L429.50 274.40 L430.00 274.44 L430.50 274.48 L431.00 274.52 L431.50 274.56 L432.00 274.59 L432.50 274.63 L433.00 274.67 L433.50 274.71 L434.00 274.75 L434.50 274.79 L435.00 274.83 L435.50 274.87 L436.00 274.90 L436.50 274.94 L437.00 274.98 L437.50 275.02 L438.00 275.05 L438.50 275.09 L439.00 275.13 L439.50 275.16 L440.00 275.20 L440.50 275.24 L441.00 275.27 L441.50 275.31 L442.00 275.35 L442.50 275.38 L443.00 275.42 L443.50 275.45 L444.00 275.49 L444.50 275.52 L445.00 275.56 L445.50 275.59 L446.00 275.63 L446.50 275.66 L447.00 275.70 L447.50 275.73 L448.00 275.77 L448.50 275.80 L449.00 275.84 L449.50 275.87 L450.00 275.90 L450.50 275.94 L451.00 275.97 L451.50 276.01 L452.00 276.04 L452.50 276.07 L453.00 276.11 L453.50 276.14 L454.00 276.17 L454.50 276.20 L455.00 276.24 L455.50 276.27 L456.00 276.30 L456.50 276.33 L457.00 276.37 L457.50 276.40 L458.00 276.43 L458.50 276.46 L459.00 276.49 L459.50 276.53 L460.00 276.56 L460.50 276.59 L461.00 276.62 L461.50 276.65 L462.00 276.68 L462.50 276.71 L463.00 276.74 L463.50 276.77 L464.00 276.80 L464.50 276.83 L465.00 276.86 L465.50 276.89 L466.00 276.92 L466.50 276.95 L467.00 276.98 L467.50 277.01 L468.00 277.04 L468.50 277.07 L469.00 277.10 L469.50 277.13 L470.00 277.16 L470.50 277.19 L471.00 277.21 L471.50 277.24 L472.00 277.27 L472.50 277.30 L473.00 277.33 L473.50 277.36 L474.00 277.39 L474.50 277.42 L475.00 277.44 L475.50 277.47 L476.00 277.50 L476.50 277.53 L477.00 277.56 L477.50 277.59 L478.00 277.62 L478.50 277.65 L479.00 277.68 L479.50 277.71 L480.00 277.73 L480.50 277.76 L481.00 277.79 L481.50 277.82 L482.00 277.85 L482.50 277.88 L483.00 277.91 L483.50 277.94 L484.00 277.97 L484.50 278.00 L485.00 278.02 L485.50 278.05 L486.00 278.08 L486.50 278.11 L487.00 278.14 L487.50 278.17 L488.00 278.20 L488.50 278.23 L489.00 278.26 L489.50 278.29 L490.00 278.32 L490.50 278.35 L491.00 278.38 L491.50 278.41 L492.00 278.44 L492.50 278.46 L493.00 278.49 L493.50 278.52 L494.00 278.55 L494.50 278.58 L495.00 278.61 L495.50 278.64 L496.00 278.66 L496.50 278.69 L497.00 278.72 L497.50 278.75 L498.00 278.78 L498.50 278.80 L499.00 278.83 L499.50 278.86 L500.00 278.88 L500.50 278.91 L501.00 278.94 L501.50 278.97 L502.00 278.99 L502.50 279.02 L503.00 279.05 L503.50 279.07 L504.00 279.10 L504.50 279.13 L505.00 279.15 L505.50 279.18 L506.00 279.21 L506.50 279.23 L507.00 279.26 L507.50 279.28 L508.00 279.31 L508.50 279.34 L509.00 279.36 L509.50 279.39 L510.00 279.41 L510.50 279.44 L511.00 279.46 L511.50 279.49 L512.00 279.51 L512.50 279.54 L513.00 279.56 L513.50 279.59 L514.00 279.61 L514.50 279.64 L515.00 279.66 L515.50 279.69 L516.00 279.71 L516.50 279.74 L517.00 279.76 L517.50 279.79 L518.00 279.81 L518.50 279.83 L519.00 279.86 L519.50 279.88 L520.00 279.91 L520.50 279.93 L521.00 279.95 L521.50 279.98 L522.00 280.00 L522.50 280.03 L523.00 280.05 L523.50 280.07 L524.00 280.10 L524.50 280.12 L525.00 280.14 L525.50 280.16 L526.00 280.19 L526.50 280.21 L527.00 280.23 L527.50 280.26 L528.00 280.28 L528.50 280.30 L529.00 280.32 L529.50 280.35 L530.00 280.37 L530.50 280.39 L531.00 280.41 L531.50 280.44 L532.00 280.46 L532.50 280.48 L533.00 280.50 L533.50 280.52 L534.00 280.55 L534.50 280.57 L535.00 280.59 L535.50 280.61 L536.00 280.63 L536.50 280.65 L537.00 280.68 L537.50 280.70 L538.00 280.72 L538.50 280.74 L539.00 280.76 L539.50 280.78 L540.00 280.80 L540.50 280.82 L541.00 280.84 L541.50 280.87 L542.00 280.89 L542.50 280.91 L543.00 280.93 L543.50 280.95 L544.00 280.97 L544.50 280.99 L545.00 281.01 L545.50 281.03 L546.00 281.05 L546.50 281.07 L547.00 281.09 L547.50 281.11 L548.00 281.13 L548.50 281.15 L549.00 281.17 L549.50 281.19 L550.00 281.21 L550.50 281.23 L551.00 281.25 L551.50 281.27 L552.00 281.29 L552.50 281.30 L553.00 281.32 L553.50 281.34 L554.00 281.36 L554.50 281.38 L555.00 281.40 L555.50 281.42 L556.00 281.44 L556.50 281.46 L557.00 281.48 L557.50 281.50 L558.00 281.52 L558.50 281.54 L559.00 281.56 L559.50 281.58 L560.00 281.60 L560.50 281.62 L561.00 281.64 L561.50 281.66 L562.00 281.68 L562.50 281.70 L563.00 281.72 L563.50 281.74 L564.00 281.76 L564.50 281.78 L565.00 281.80 L565.50 281.82 L566.00 281.84 L566.50 281.86 L567.00 281.88 L567.50 281.90 L568.00 281.92 L568.50 281.94 L569.00 281.96 L569.50 281.98 L570.00 282.00 L570.50 282.02 L571.00 282.04 L571.50 282.06 L572.00 282.08 L572.50 282.10 L573.00 282.12 L573.50 282.14 L574.00 282.16 L574.50 282.18 L575.00 282.20 L575.50 282.22 L576.00 282.24 L576.50 282.25 L577.00 282.27 L577.50 282.29 L578.00 282.31 L578.50 282.33 L579.00 282.35 L579.50 282.37 L580.00 282.39 L580.50 282.41 L581.00 282.43 L581.50 282.44 L582.00 282.46 L582.50 282.48 L583.00 282.50 L583.50 282.52 L584.00 282.54 L584.50 282.56 L585.00 282.57 L585.50 282.59 L586.00 282.61 L586.50 282.63 L587.00 282.65 L587.50 282.67 L588.00 282.68 L588.50 282.70 L589.00 282.72 L589.50 282.74 L590.00 282.76 L590.50 282.77 L591.00 282.79 L591.50 282.81 L592.00 282.83 L592.50 282.84 L593.00 282.86 L593.50 282.88 L594.00 282.90 L594.50 282.91 L595.00 282.93 L595.50 282.95 L596.00 282.97 L596.50 282.98 L597.00 283.00 L597.50 283.02 L598.00 283.04 L598.50 283.05 L599.00 283.07 L599.50 283.09 L600.00 283.10 L600.50 283.12 L601.00 283.14 L601.50 283.16 L602.00 283.17 L602.50 283.19 L603.00 283.21 L603.50 283.22 L604.00 283.24 L604.50 283.26 L605.00 283.27 L605.50 283.29 L606.00 283.31 L606.50 283.32 L607.00 283.34 L607.50 283.35 L608.00 283.37 L608.50 283.39 L609.00 283.40 L609.50 283.42 L610.00 283.44 L610.50 283.45 L611.00 283.47 L611.50 283.48 L612.00 283.50 L612.50 283.52 L613.00 283.53 L613.50 283.55 L614.00 283.56 L614.50 283.58 L615.00 283.60 L615.50 283.61 L616.00 283.63 L616.50 283.64 L617.00 283.66 L617.50 283.67 L618.00 283.69 L618.50 283.71 L619.00 283.72 L619.50 283.74 L620.00 283.75 L620.50 283.77 L621.00 283.78 L621.50 283.80 L622.00 283.81 L622.50 283.83 L623.00 283.84 L623.50 283.86 L624.00 283.87 L624.50 283.89 L625.00 283.90 L625.50 283.92 L626.00 283.93 L626.50 283.95 L627.00 283.96 L627.50 283.98 L628.00 283.99 L628.50 284.01 L629.00 284.02 L629.50 284.04 L630.00 284.05 L630.50 284.07 L631.00 284.08 L631.50 284.10 L632.00 284.11 L632.50 284.12 L633.00 284.14 L633.50 284.15 L634.00 284.17 L634.50 284.18 L635.00 284.20 L635.50 284.21 L636.00 284.22 L636.50 284.24 L637.00 284.25 L637.50 284.27 L638.00 284.28 L638.50 284.30 L639.00 284.31 L639.50 284.32 L640.00 284.34 L640.50 284.35 L641.00 284.37 L641.50 284.38 L642.00 284.39 L642.50 284.41 L643.00 284.42 L643.50 284.43 L644.00 284.45 L644.50 284.46 L645.00 284.48 L645.50 284.49 L646.00 284.50 L646.50 284.52 L647.00 284.53 L647.50 284.54 L648.00 284.56 L648.50 284.57 L649.00 284.58 L649.50 284.60 L650.00 284.61 L650.50 284.62 L651.00 284.64 L651.50 284.65 L652.00 284.66 L652.50 284.68 L653.00 284.69 L653.50 284.70 L654.00 284.72 L654.50 284.73 L655.00 284.74 L655.50 284.76 L656.00 284.77 L656.50 284.78 L657.00 284.79 L657.50 284.81 L658.00 284.82 L658.50 284.83 L659.00 284.85 L659.50 284.86 L660.00 284.87 L660.50 284.88 L661.00 284.90 L661.50 284.91 L662.00 284.92 L662.50 284.94 L663.00 284.95 L663.50 284.96 L664.00 284.97 L664.50 284.99 L665.00 285.00 L665.50 285.01 L666.00 285.02 L666.50 285.04 L667.00 285.05 L667.50 285.06 L668.00 285.07 L668.50 285.09 L669.00 285.10 L669.50 285.11 L670.00 285.12 L670.50 285.14 L671.00 285.15 L671.50 285.16 L672.00 285.17 L672.50 285.18 L673.00 285.20 L673.50 285.21 L674.00 285.22 L674.50 285.23 L675.00 285.24 L675.50 285.25 L676.00 285.26 L676.50 285.28 L677.00 285.29 L677.50 285.30 L678.00 285.31 L678.50 285.32 L679.00 285.33 L679.50 285.34 L680.00 285.35 L680.50 285.36 L681.00 285.37 L681.50 285.38 L682.00 285.39" stroke="#0000ff" stroke-width="2" fill="none"/>
</g>
<polygon points="177.05,72.20 178.74,75.98 182.85,76.41 179.78,79.19 180.64,83.24 177.05,81.17 173.46,83.24 174.32,79.19 171.25,76.41 175.36,75.98" fill="#000"/>
<g clip-path="url(#cl)">
<path d="M88.4 564.3V600.7M96.6 564.7V601.5M117.2 567.9V607.5M124.4 560.1V593.2M131.6 551.4V578.9M148.0 544.8V568.8M159.0 567.5V606.8M163.4 571.3V614.2M184.1 545.9V570.4M185.4 570.0V611.7M186.8 541.9V564.5M188.2 564.9V601.8M189.6 530.9V549.0M191.0 543.1V566.2M192.4 544.9V568.9M193.7 558.6V590.6M195.3 544.1V567.7M198.0 565.4V602.8M199.4 536.1V556.3M202.2 529.1V546.6M204.9 530.3V548.3M207.0 537.4V558.0M208.3 516.0V529.6M209.7 523.6V539.4M211.1 549.4V575.8M212.5 511.0V523.4M213.9 509.0V521.0M215.3 526.1V542.7M216.6 528.9V546.4M218.6 539.4V560.9M219.9 554.5V583.9M221.3 521.7V536.9M222.7 546.1V570.6M224.1 537.7V558.4M225.5 550.8V578.0M226.9 547.6V573.0M228.2 561.3V595.3M229.2 518.4V532.7M230.5 537.4V558.0M231.9 521.8V537.1M233.3 534.8V554.4M234.7 546.6V571.4M236.1 540.2V562.0M237.5 544.2V567.8M238.8 534.9V554.5M239.7 540.3V562.2M241.0 539.1V560.4M242.4 559.9V592.9M243.8 548.0V573.5M245.2 513.6V526.6M246.6 545.5V569.8M248.0 552.8V581.2M249.3 529.5V547.2M250.7 529.5V547.2M253.4 557.6V589.0M254.8 567.8V607.3M257.6 539.7V561.3M259.0 553.6V582.4M260.3 551.7V579.3M261.4 561.5V595.7M262.7 538.1V559.1M264.1 556.7V587.4M265.5 548.6V574.5M266.9 570.6V612.7M268.3 573.6V619.0M269.7 525.5V541.8M271.0 556.0V586.2M272.8 548.5V574.3M274.1 555.0V584.7M275.5 564.4V600.8M276.9 566.0V603.9M278.3 542.4V565.1M279.7 561.0V594.8M281.1 557.6V588.9M282.4 553.8V582.8M284.0 541.8V564.3M285.3 550.9V578.1M286.7 557.1V588.2M290.9 545.8V570.3M292.3 545.5V569.8M293.6 569.9V611.4M296.1 550.4V577.3M297.4 545.9V570.3M298.8 545.0V569.0M300.2 543.4V566.6M301.6 574.1V620.1M303.0 533.8V553.0M305.7 544.4V568.2M306.9 562.9V598.2M308.2 554.4V583.6M309.6 536.3V556.4M311.0 542.7V565.7M315.2 555.6V585.6M316.7 554.7V584.1M318.0 538.9V560.2M322.2 549.2V575.4M323.6 553.5V582.2M325.0 559.8V592.8M326.3 553.6V582.4M327.9 569.9V611.5M330.6 553.5V582.2M332.0 573.0V617.8M334.8 541.0V563.2M336.2 551.4V578.8M337.5 542.7V565.6M344.3 556.1V586.5M347.1 552.8V581.0M348.4 553.1V581.5M352.5 553.2V581.8M355.3 541.4V563.7M358.6 564.0V600.2M362.9 569.4V610.4M365.3 571.0V613.6M369.3 556.8V587.6M374.9 528.6V546.0M387.4 539.1V560.4M398.7 563.8V599.9M405.4 570.6V612.8M409.6 557.7V589.0M412.4 549.6V576.1M416.7 552.6V580.8M420.5 555.1V584.8M426.2 565.8V603.5M428.0 565.8V603.5M430.8 569.3V610.3M433.4 571.6V614.9M438.5 567.7V607.1M443.1 557.6V588.9M461.1 564.1V600.4M462.9 553.7V582.5M486.0 562.7V597.9M491.2 553.7V582.5M497.0 556.6V587.2M502.2 565.4V602.8M527.1 562.4V597.2M530.5 550.8V577.9M537.4 570.6V612.9M540.0 568.7V609.0M541.8 569.0V609.6M551.0 571.4V614.4M577.2 557.8V589.4M585.0 562.8V598.0M622.8 568.9V609.5M625.6 565.9V603.7M627.0 571.3V614.2M642.5 565.8V603.5" stroke="#c8c8c8" stroke-width="2" fill="none"/>
<line x1="177.2" y1="641.5" x2="177.2" y2="332.5" stroke="#ff0000" stroke-width="2" stroke-dasharray="6.4 2.6" stroke-dashoffset="4"/>
<line x1="231.0" y1="641.5" x2="231.0" y2="332.5" stroke="#0000ff" stroke-width="2" stroke-dasharray="6.4 2.6" stroke-dashoffset="4"/>
<path d="M188.6 555.5V567.0M185.4 555.5H191.8M185.4 567.0H191.8M200.1 561.4V573.5M196.9 561.4H203.3M196.9 573.5H203.3M211.7 528.0V535.5M208.5 528.0H214.9M208.5 535.5H214.9M223.7 548.5V560.6M220.5 548.5H226.9M220.5 560.6H226.9M234.0 535.0V551.1M230.8 535.0H237.2M230.8 551.1H237.2M244.6 541.1V558.6M241.4 541.1H247.8M241.4 558.6H247.8M255.2 564.2V579.1M252.0 564.2H258.4M252.0 579.1H258.4M266.5 553.4V574.5M263.3 553.4H269.7M263.3 574.5H269.7M277.5 562.1V576.5M274.3 562.1H280.7M274.3 576.5H280.7M289.1 562.9V583.5M285.9 562.9H292.3M285.9 583.5H292.3M301.1 556.0V572.7M297.9 556.0H304.3M297.9 572.7H304.3M311.4 571.9V596.3M308.2 571.9H314.6M308.2 596.3H314.6M321.7 568.8V588.6M318.5 568.8H324.9M318.5 588.6H324.9M332.7 568.0V586.0M329.5 568.0H335.9M329.5 586.0H335.9M343.8 581.7V598.1M340.6 581.7H347.0M340.6 598.1H347.0" stroke="#000" stroke-width="1.7" fill="none"/>
<path d="M88.9 590.3V596.6M100.5 590.3V596.6M111.5 590.3V596.6M123.1 590.3V596.6M134.8 590.3V596.6M145.8 590.3V596.6M156.5 590.3V596.6M167.0 590.3V596.6M178.0 590.3V596.6M354.8 590.3V596.6M366.0 590.3V596.6M378.0 590.3V596.6M389.1 590.3V596.6M399.2 590.3V596.6M410.1 590.3V596.6M421.3 590.3V596.6M432.5 590.3V596.6M443.5 590.3V596.6M454.7 590.3V596.6M465.6 590.3V596.6M476.8 590.3V596.6M487.8 590.3V596.6M498.7 590.3V596.6M509.9 590.3V596.6M521.1 590.3V596.6M531.8 590.3V596.6M543.1 590.3V596.6M554.1 590.3V596.6M565.1 590.3V596.6M575.9 590.3V596.6M587.4 590.3V596.6M598.7 590.3V596.6M609.7 590.3V596.6M620.5 590.3V596.6M631.5 590.3V596.6M642.5 590.3V596.6M653.8 590.3V596.6M664.8 590.3V596.6M676.1 590.3V596.6" stroke="#000" stroke-width="1.2" fill="none"/>
<g fill="#000"><circle cx="188.6" cy="559.8" r="2.2"/><circle cx="200.1" cy="567.0" r="2.2"/><circle cx="211.7" cy="531.1" r="2.2"/><circle cx="223.7" cy="555.0" r="2.2"/><circle cx="234.0" cy="543.2" r="2.2"/><circle cx="244.6" cy="549.3" r="2.2"/><circle cx="255.2" cy="571.4" r="2.2"/><circle cx="266.5" cy="565.5" r="2.2"/><circle cx="277.5" cy="569.3" r="2.2"/><circle cx="289.1" cy="573.2" r="2.2"/><circle cx="301.1" cy="564.2" r="2.2"/><circle cx="311.4" cy="583.5" r="2.2"/><circle cx="321.7" cy="578.3" r="2.2"/><circle cx="332.7" cy="576.5" r="2.2"/><circle cx="343.8" cy="589.9" r="2.2"/></g>
<path d="M176.00 657.26 L176.50 651.25 L177.00 645.79 L177.50 640.79 L178.00 636.16 L178.50 631.87 L179.00 627.87 L179.50 624.11 L180.00 620.58 L180.50 617.24 L181.00 614.08 L181.50 611.07 L182.00 608.21 L182.50 605.48 L183.00 602.87 L183.50 600.36 L184.00 597.96 L184.50 595.65 L185.00 593.42 L185.50 591.28 L186.00 589.20 L186.50 587.20 L187.00 585.26 L187.50 583.38 L188.00 581.56 L188.50 579.79 L189.00 578.08 L189.50 576.41 L190.00 574.78 L190.50 573.20 L191.00 571.66 L191.50 570.15 L192.00 568.69 L192.50 567.26 L193.00 565.86 L193.50 564.49 L194.00 563.16 L194.50 561.85 L195.00 560.57 L195.50 559.32 L196.00 558.09 L196.50 556.89 L197.00 555.71 L197.50 554.55 L198.00 553.42 L198.50 552.31 L199.00 551.21 L199.50 550.14 L200.00 549.08 L200.50 548.05 L201.00 547.03 L201.50 546.03 L202.00 545.04 L202.50 544.07 L203.00 543.12 L203.50 542.18 L204.00 541.25 L204.50 540.34 L205.00 539.44 L205.50 538.56 L206.00 537.69 L206.50 536.83 L207.00 537.04 L207.50 537.26 L208.00 537.47 L208.50 537.69 L209.00 537.90 L209.50 538.12 L210.00 538.33 L210.50 538.55 L211.00 538.76 L211.50 538.98 L212.00 539.19 L212.50 539.41 L213.00 539.62 L213.50 539.84 L214.00 540.05 L214.50 540.27 L215.00 540.48 L215.50 540.69 L216.00 540.91 L216.50 541.12 L217.00 541.34 L217.50 541.55 L218.00 541.77 L218.50 541.98 L219.00 542.20 L219.50 542.41 L220.00 542.63 L220.50 542.84 L221.00 543.05 L221.50 543.27 L222.00 543.48 L222.50 543.70 L223.00 543.91 L223.50 544.13 L224.00 544.34 L224.50 544.55 L225.00 544.77 L225.50 544.98 L226.00 545.20 L226.50 545.41 L227.00 545.63 L227.50 545.84 L228.00 546.05 L228.50 546.27 L229.00 546.48 L229.50 546.70 L230.00 546.91 L230.50 547.12 L231.00 547.34 L231.50 547.55 L232.00 547.77 L232.50 547.98 L233.00 548.19 L233.50 548.41 L234.00 548.62 L234.50 548.84 L235.00 549.05 L235.50 549.26 L236.00 549.48 L236.50 549.69 L237.00 549.91 L237.50 550.12 L238.00 550.33 L238.50 550.55 L239.00 550.76 L239.50 550.97 L240.00 551.19 L240.50 551.40 L241.00 551.62 L241.50 551.83 L242.00 552.04 L242.50 552.26 L243.00 552.47 L243.50 552.68 L244.00 552.90 L244.50 553.11 L245.00 553.32 L245.50 553.54 L246.00 553.75 L246.50 553.96 L247.00 554.18 L247.50 554.39 L248.00 554.60 L248.50 554.82 L249.00 555.03 L249.50 555.24 L250.00 555.46 L250.50 555.67 L251.00 555.88 L251.50 556.10 L252.00 556.31 L252.50 556.52 L253.00 556.74 L253.50 556.95 L254.00 557.16 L254.50 557.38 L255.00 557.59 L255.50 557.80 L256.00 558.01 L256.50 558.23 L257.00 558.44 L257.50 558.65 L258.00 558.87 L258.50 559.08 L259.00 559.29 L259.50 559.50 L260.00 559.72 L260.50 559.93 L261.00 560.14 L261.50 560.36 L262.00 560.57 L262.50 560.78 L263.00 560.99 L263.50 561.21 L264.00 561.42 L264.50 561.63 L265.00 561.84 L265.50 562.06 L266.00 562.27 L266.50 562.48 L267.00 562.69 L267.50 562.91 L268.00 563.12 L268.50 563.33 L269.00 563.54 L269.50 563.75 L270.00 563.97 L270.50 564.18 L271.00 564.39 L271.50 564.60 L272.00 564.82 L272.50 565.03 L273.00 565.24 L273.50 565.45 L274.00 565.66 L274.50 565.88 L275.00 566.09 L275.50 566.30 L276.00 566.51 L276.50 566.72 L277.00 566.94 L277.50 567.15 L278.00 567.36 L278.50 567.57 L279.00 567.78 L279.50 567.99 L280.00 568.21 L280.50 568.42 L281.00 568.63 L281.50 568.84 L282.00 569.05 L282.50 569.26 L283.00 569.48 L283.50 569.69 L284.00 569.90 L284.50 570.11 L285.00 570.32 L285.50 570.53 L286.00 570.74 L286.50 570.96 L287.00 571.17 L287.50 571.38 L288.00 571.59 L288.50 571.80 L289.00 572.01 L289.50 572.22 L290.00 572.43 L290.50 572.65 L291.00 572.86 L291.50 573.07 L292.00 573.28 L292.50 573.49 L293.00 573.70 L293.50 573.91 L294.00 574.12 L294.50 574.33 L295.00 574.54 L295.50 574.75 L296.00 574.97 L296.50 575.18 L297.00 575.39 L297.50 575.60 L298.00 575.81 L298.50 576.02 L299.00 576.23 L299.50 576.44 L300.00 576.65 L300.50 576.86 L301.00 577.07 L301.50 577.28 L302.00 577.49 L302.50 577.70 L303.00 577.91 L303.50 578.12 L304.00 578.33 L304.50 578.54 L305.00 578.75 L305.50 578.96 L306.00 579.17 L306.50 579.38 L307.00 579.59 L307.50 579.80 L308.00 580.01 L308.50 580.22 L309.00 580.43 L309.50 580.64 L310.00 580.85 L310.50 581.06 L311.00 581.27 L311.50 581.48 L312.00 581.69 L312.50 581.90 L313.00 582.11 L313.50 582.32 L314.00 582.53 L314.50 582.74 L315.00 582.95 L315.50 583.16 L316.00 583.37 L316.50 583.58 L317.00 583.79 L317.50 584.00 L318.00 584.21 L318.50 584.42 L319.00 584.62 L319.50 584.83 L320.00 585.04 L320.50 585.25 L321.00 585.46 L321.50 585.67 L322.00 585.88 L322.50 586.09 L323.00 586.30 L323.50 586.51 L324.00 586.71 L324.50 586.92 L325.00 587.13 L325.50 587.34 L326.00 587.55 L326.50 587.76 L327.00 587.97 L327.50 588.18 L328.00 588.38 L328.50 588.59 L329.00 588.80 L329.50 589.01 L330.00 589.22 L330.50 589.43 L331.00 589.63 L331.50 589.84 L332.00 590.05 L332.50 590.26 L333.00 590.47 L333.50 590.67 L334.00 590.88 L334.50 591.09 L335.00 591.30 L335.50 591.51 L336.00 591.71 L336.50 591.92 L337.00 592.13 L337.50 592.34 L338.00 592.55 L338.50 592.75 L339.00 592.96 L339.50 593.17 L340.00 593.38 L340.50 593.58 L341.00 593.79 L341.50 594.00 L342.00 594.21 L342.50 594.41 L343.00 594.62 L343.50 594.83 L344.00 595.04 L344.50 595.24 L345.00 595.45 L345.50 595.66 L346.00 595.86 L346.50 596.07 L347.00 596.28 L347.50 596.48 L348.00 596.69 L348.50 596.90 L349.00 597.11 L349.50 597.31 L350.00 597.52 L350.50 597.73 L351.00 597.93 L351.50 598.14 L352.00 598.34 L352.50 598.55 L353.00 598.76 L353.50 598.96 L354.00 599.17 L354.50 599.38 L355.00 599.58 L355.50 599.79 L356.00 600.00 L356.50 600.20 L357.00 600.41 L357.50 600.61 L358.00 600.82 L358.50 601.03 L359.00 601.23 L359.50 601.44 L360.00 601.64 L360.50 601.85 L361.00 602.05 L361.50 602.26 L362.00 602.47 L362.50 602.67 L363.00 602.88 L363.50 603.08 L364.00 603.29 L364.50 603.49 L365.00 603.70 L365.50 603.90 L366.00 604.11 L366.50 604.31 L367.00 604.52 L367.50 604.72 L368.00 604.93 L368.50 605.13 L369.00 605.34 L369.50 605.54 L370.00 605.75 L370.50 605.95 L371.00 606.16 L371.50 606.36 L372.00 606.57 L372.50 606.77 L373.00 606.98 L373.50 607.18 L374.00 607.38 L374.50 607.59 L375.00 607.79 L375.50 608.00 L376.00 608.20 L376.50 608.41 L377.00 608.61 L377.50 608.81 L378.00 609.02 L378.50 609.22 L379.00 609.43 L379.50 609.63 L380.00 609.83 L380.50 610.04 L381.00 610.24 L381.50 610.44 L382.00 610.65 L382.50 610.85 L383.00 611.05 L383.50 611.26 L384.00 611.46 L384.50 611.66 L385.00 611.87 L385.50 612.07 L386.00 612.27 L386.50 612.48 L387.00 612.68 L387.50 612.88 L388.00 613.09 L388.50 613.29 L389.00 613.49 L389.50 613.69 L390.00 613.90 L390.50 614.10 L391.00 614.30 L391.50 614.50 L392.00 614.71 L392.50 614.91 L393.00 615.11 L393.50 615.31 L394.00 615.51 L394.50 615.72 L395.00 615.92 L395.50 616.12 L396.00 616.32 L396.50 616.52 L397.00 616.73 L397.50 616.93 L398.00 617.13 L398.50 617.33 L399.00 617.53 L399.50 617.73 L400.00 617.94 L400.50 618.14 L401.00 618.34 L401.50 618.54 L402.00 618.74 L402.50 618.94 L403.00 619.14 L403.50 619.34 L404.00 619.55 L404.50 619.75 L405.00 619.95 L405.50 620.15 L406.00 620.35 L406.50 620.55 L407.00 620.75 L407.50 620.95 L408.00 621.15 L408.50 621.35 L409.00 621.55 L409.50 621.75 L410.00 621.95 L410.50 622.15 L411.00 622.35 L411.50 622.55 L412.00 622.75 L412.50 622.95 L413.00 623.15 L413.50 623.35 L414.00 623.55 L414.50 623.75 L415.00 623.95 L415.50 624.15 L416.00 624.35 L416.50 624.55 L417.00 624.75 L417.50 624.95 L418.00 625.15 L418.50 625.34 L419.00 625.54 L419.50 625.74 L420.00 625.94 L420.50 626.14 L421.00 626.34 L421.50 626.54 L422.00 626.74 L422.50 626.93 L423.00 627.13 L423.50 627.33 L424.00 627.53 L424.50 627.73 L425.00 627.93 L425.50 628.12 L426.00 628.32 L426.50 628.52 L427.00 628.72 L427.50 628.92 L428.00 629.11 L428.50 629.31 L429.00 629.51 L429.50 629.71 L430.00 629.90 L430.50 630.10 L431.00 630.30 L431.50 630.50 L432.00 630.69 L432.50 630.89 L433.00 631.09 L433.50 631.28 L434.00 631.48 L434.50 631.68 L435.00 631.87 L435.50 632.07 L436.00 632.27 L436.50 632.46 L437.00 632.66 L437.50 632.86 L438.00 633.05 L438.50 633.25 L439.00 633.44 L439.50 633.64 L440.00 633.84 L440.50 634.03 L441.00 634.23 L441.50 634.42 L442.00 634.62 L442.50 634.81 L443.00 635.01 L443.50 635.21 L444.00 635.40 L444.50 635.60 L445.00 635.79 L445.50 635.99 L446.00 636.18 L446.50 636.38 L447.00 636.57 L447.50 636.77 L448.00 636.96 L448.50 637.15 L449.00 637.35 L449.50 637.54 L450.00 637.74 L450.50 637.93 L451.00 638.13 L451.50 638.32 L452.00 638.51 L452.50 638.71 L453.00 638.90 L453.50 639.10 L454.00 639.29 L454.50 639.48 L455.00 639.68 L455.50 639.87 L456.00 640.06 L456.50 640.26 L457.00 640.45 L457.50 640.64 L458.00 640.84 L458.50 641.03 L459.00 641.22 L459.50 641.41 L460.00 641.61 L460.50 641.80 L461.00 641.99 L461.50 642.18 L462.00 642.38 L462.50 642.57 L463.00 642.76 L463.50 642.95 L464.00 643.14 L464.50 643.34 L465.00 643.53 L465.50 643.72 L466.00 643.91 L466.50 644.10 L467.00 644.29 L467.50 644.49 L468.00 644.68 L468.50 644.87 L469.00 645.06 L469.50 645.25 L470.00 645.44" stroke="#ff0000" stroke-width="2" fill="none"/>
<path d="M178.30 617.84 L178.80 608.26 L179.30 601.25 L179.80 596.53 L180.30 593.30 L180.80 590.55 L181.30 587.61 L181.80 584.65 L182.30 581.86 L182.80 579.33 L183.30 577.03 L183.80 574.98 L184.30 573.34 L184.80 571.94 L185.30 570.70 L185.80 569.54 L186.30 568.41 L186.80 567.33 L187.30 566.30 L187.80 565.34 L188.30 564.46 L188.80 563.65 L189.30 562.87 L189.80 562.11 L190.30 561.38 L190.80 560.68 L191.30 560.00 L191.80 559.34 L192.30 558.71 L192.80 558.10 L193.30 557.51 L193.80 556.95 L194.30 556.40 L194.80 555.88 L195.30 555.38 L195.80 554.89 L196.30 554.43 L196.80 553.98 L197.30 553.54 L197.80 553.11 L198.30 552.69 L198.80 552.28 L199.30 551.88 L199.80 551.50 L200.30 551.12 L200.80 550.76 L201.30 550.41 L201.80 550.08 L202.30 549.75 L202.80 549.44 L203.30 549.15 L203.80 548.86 L204.30 548.60 L204.80 548.34 L205.30 548.10 L205.80 547.86 L206.30 547.63 L206.80 547.40 L207.30 547.17 L207.80 546.95 L208.30 546.74 L208.80 546.54 L209.30 546.34 L209.80 546.15 L210.30 545.97 L210.80 545.81 L211.30 545.65 L211.80 545.51 L212.30 545.37 L212.80 545.26 L213.30 545.15 L213.80 545.06 L214.30 544.98 L214.80 544.89 L215.30 544.81 L215.80 544.73 L216.30 544.66 L216.80 544.59 L217.30 544.52 L217.80 544.46 L218.30 544.41 L218.80 544.37 L219.30 544.34 L219.80 544.32 L220.30 544.31 L220.80 544.32 L221.30 544.33 L221.80 544.36 L222.30 544.40 L222.80 544.45 L223.30 544.51 L223.80 544.58 L224.30 544.65 L224.80 544.73 L225.30 544.82 L225.80 544.91 L226.30 545.01 L226.80 545.11 L227.30 545.21 L227.80 545.32 L228.30 545.43 L228.80 545.53 L229.30 545.64 L229.80 545.75 L230.30 545.89 L230.80 546.03 L231.30 546.18 L231.80 546.35 L232.30 546.52 L232.80 546.71 L233.30 546.90 L233.80 547.11 L234.30 547.32 L234.80 547.54 L235.30 547.76 L235.80 547.99 L236.30 548.23 L236.80 548.47 L237.30 548.72 L237.80 548.97 L238.30 549.22 L238.80 549.47 L239.30 549.72 L239.80 549.98 L240.30 550.23 L240.80 550.48 L241.30 550.73 L241.80 550.98 L242.30 551.22 L242.80 551.46 L243.30 551.69 L243.80 551.92 L244.30 552.15 L244.80 552.37 L245.30 552.60 L245.80 552.84 L246.30 553.07 L246.80 553.31 L247.30 553.54 L247.80 553.78 L248.30 554.02 L248.80 554.27 L249.30 554.51 L249.80 554.75 L250.30 555.00 L250.80 555.25 L251.30 555.49 L251.80 555.74 L252.30 555.99 L252.80 556.24 L253.30 556.49 L253.80 556.74 L254.30 556.99 L254.80 557.24 L255.30 557.49 L255.80 557.74 L256.30 557.99 L256.80 558.25 L257.30 558.50 L257.80 558.75 L258.30 558.99 L258.80 559.24 L259.30 559.49 L259.80 559.74 L260.30 559.98 L260.80 560.23 L261.30 560.47 L261.80 560.71 L262.30 560.95 L262.80 561.19 L263.30 561.42 L263.80 561.66 L264.30 561.89 L264.80 562.12 L265.30 562.35 L265.80 562.57 L266.30 562.80 L266.80 563.02 L267.30 563.24 L267.80 563.46 L268.30 563.68 L268.80 563.90 L269.30 564.11 L269.80 564.33 L270.30 564.54 L270.80 564.76 L271.30 564.97 L271.80 565.18 L272.30 565.39 L272.80 565.60 L273.30 565.81 L273.80 566.02 L274.30 566.23 L274.80 566.44 L275.30 566.65 L275.80 566.86 L276.30 567.06 L276.80 567.27 L277.30 567.48 L277.80 567.69 L278.30 567.90 L278.80 568.11 L279.30 568.32 L279.80 568.53 L280.30 568.74 L280.80 568.95 L281.30 569.16 L281.80 569.38 L282.30 569.59 L282.80 569.81 L283.30 570.02 L283.80 570.24 L284.30 570.46 L284.80 570.68 L285.30 570.90 L285.80 571.13 L286.30 571.35 L286.80 571.57 L287.30 571.80 L287.80 572.02 L288.30 572.25 L288.80 572.47 L289.30 572.70 L289.80 572.92 L290.30 573.15 L290.80 573.37 L291.30 573.60 L291.80 573.82 L292.30 574.05 L292.80 574.28 L293.30 574.50 L293.80 574.73 L294.30 574.95 L294.80 575.18 L295.30 575.40 L295.80 575.63 L296.30 575.85 L296.80 576.08 L297.30 576.30 L297.80 576.53 L298.30 576.75 L298.80 576.98 L299.30 577.20 L299.80 577.43 L300.30 577.65 L300.80 577.88 L301.30 578.11 L301.80 578.33 L302.30 578.56 L302.80 578.78 L303.30 579.01 L303.80 579.23 L304.30 579.46 L304.80 579.68 L305.30 579.91 L305.80 580.14 L306.30 580.36 L306.80 580.59 L307.30 580.81 L307.80 581.04 L308.30 581.26 L308.80 581.49 L309.30 581.71 L309.80 581.94 L310.30 582.17 L310.80 582.39 L311.30 582.62 L311.80 582.84 L312.30 583.07 L312.80 583.30 L313.30 583.52 L313.80 583.75 L314.30 583.97 L314.80 584.20 L315.30 584.43 L315.80 584.65 L316.30 584.88 L316.80 585.11 L317.30 585.33 L317.80 585.56 L318.30 585.79 L318.80 586.02 L319.30 586.24 L319.80 586.47 L320.30 586.70 L320.80 586.92 L321.30 587.15 L321.80 587.38 L322.30 587.61 L322.80 587.83 L323.30 588.06 L323.80 588.29 L324.30 588.52 L324.80 588.75 L325.30 588.97 L325.80 589.20 L326.30 589.43 L326.80 589.66 L327.30 589.89 L327.80 590.12 L328.30 590.36 L328.80 590.59 L329.30 590.82 L329.80 591.05 L330.30 591.28 L330.80 591.51 L331.30 591.74 L331.80 591.97 L332.30 592.20 L332.80 592.43 L333.30 592.66 L333.80 592.88 L334.30 593.10 L334.80 593.33 L335.30 593.55 L335.80 593.77 L336.30 593.99 L336.80 594.20 L337.30 594.42 L337.80 594.64 L338.30 594.86 L338.80 595.07 L339.30 595.29 L339.80 595.50 L340.30 595.71 L340.80 595.93 L341.30 596.14 L341.80 596.35 L342.30 596.56 L342.80 596.77 L343.30 596.97 L343.80 597.18 L344.30 597.38 L344.80 597.59 L345.30 597.79 L345.80 597.99 L346.30 598.19 L346.80 598.39 L347.30 598.58 L347.80 598.78 L348.30 598.97 L348.80 599.16 L349.30 599.36 L349.80 599.55 L350.30 599.74 L350.80 599.93 L351.30 600.12 L351.80 600.31 L352.30 600.50 L352.80 600.69 L353.30 600.88 L353.80 601.07 L354.30 601.26 L354.80 601.45 L355.30 601.64 L355.80 601.83 L356.30 602.02 L356.80 602.21 L357.30 602.40 L357.80 602.60 L358.30 602.79 L358.80 602.98 L359.30 603.17 L359.80 603.36 L360.30 603.55 L360.80 603.75 L361.30 603.93 L361.80 604.12 L362.30 604.31 L362.80 604.50 L363.30 604.69 L363.80 604.87 L364.30 605.05 L364.80 605.24 L365.30 605.42 L365.80 605.60 L366.30 605.78 L366.80 605.96 L367.30 606.13 L367.80 606.31 L368.30 606.49 L368.80 606.66 L369.30 606.84 L369.80 607.01 L370.30 607.19 L370.80 607.36 L371.30 607.53 L371.80 607.70 L372.30 607.87 L372.80 608.04 L373.30 608.21 L373.80 608.38 L374.30 608.54 L374.80 608.71 L375.30 608.87 L375.80 609.03 L376.30 609.19 L376.80 609.35 L377.30 609.50 L377.80 609.66 L378.30 609.81 L378.80 609.96 L379.30 610.11 L379.80 610.26 L380.30 610.41 L380.80 610.56 L381.30 610.71 L381.80 610.86 L382.30 611.02 L382.80 611.17 L383.30 611.32 L383.80 611.48 L384.30 611.64 L384.80 611.80 L385.30 611.97 L385.80 612.13 L386.30 612.30 L386.80 612.47 L387.30 612.64 L387.80 612.81 L388.30 612.99 L388.80 613.16 L389.30 613.34 L389.80 613.52 L390.30 613.69 L390.80 613.87 L391.30 614.05 L391.80 614.23 L392.30 614.40 L392.80 614.58 L393.30 614.76 L393.80 614.93 L394.30 615.11 L394.80 615.28 L395.30 615.45 L395.80 615.62 L396.30 615.79 L396.80 615.97 L397.30 616.14 L397.80 616.31 L398.30 616.48 L398.80 616.65 L399.30 616.82 L399.80 616.99 L400.30 617.16 L400.80 617.33 L401.30 617.49 L401.80 617.66 L402.30 617.83 L402.80 618.00 L403.30 618.17 L403.80 618.33 L404.30 618.50 L404.80 618.67 L405.30 618.84 L405.80 619.00 L406.30 619.17 L406.80 619.33 L407.30 619.49 L407.80 619.66 L408.30 619.82 L408.80 619.98 L409.30 620.15 L409.80 620.31 L410.30 620.47 L410.80 620.64 L411.30 620.80 L411.80 620.96 L412.30 621.13 L412.80 621.29 L413.30 621.45 L413.80 621.62 L414.30 621.79 L414.80 621.95 L415.30 622.12 L415.80 622.29 L416.30 622.46 L416.80 622.62 L417.30 622.79 L417.80 622.96 L418.30 623.13 L418.80 623.30 L419.30 623.47 L419.80 623.64 L420.30 623.82 L420.80 623.99 L421.30 624.16 L421.80 624.33 L422.30 624.50 L422.80 624.68 L423.30 624.85 L423.80 625.03 L424.30 625.20 L424.80 625.38 L425.30 625.55 L425.80 625.73 L426.30 625.91 L426.80 626.09 L427.30 626.27 L427.80 626.45 L428.30 626.63 L428.80 626.81 L429.30 626.99 L429.80 627.17 L430.30 627.35 L430.80 627.54 L431.30 627.72 L431.80 627.90 L432.30 628.08 L432.80 628.26 L433.30 628.44 L433.80 628.63 L434.30 628.81 L434.80 628.99 L435.30 629.16 L435.80 629.34 L436.30 629.52 L436.80 629.70 L437.30 629.88 L437.80 630.06 L438.30 630.23 L438.80 630.41 L439.30 630.59 L439.80 630.77 L440.30 630.95 L440.80 631.12 L441.30 631.30 L441.80 631.48 L442.30 631.65 L442.80 631.83 L443.30 632.01 L443.80 632.18 L444.30 632.36 L444.80 632.54 L445.30 632.71 L445.80 632.89 L446.30 633.06 L446.80 633.24 L447.30 633.41 L447.80 633.59 L448.30 633.76 L448.80 633.94 L449.30 634.11 L449.80 634.29 L450.30 634.46 L450.80 634.63 L451.30 634.81 L451.80 634.98 L452.30 635.16 L452.80 635.33 L453.30 635.50 L453.80 635.68 L454.30 635.85 L454.80 636.02 L455.30 636.19 L455.80 636.37 L456.30 636.54 L456.80 636.71 L457.30 636.88 L457.80 637.05 L458.30 637.22 L458.80 637.40 L459.30 637.57 L459.80 637.74 L460.30 637.91 L460.80 638.08 L461.30 638.25 L461.80 638.42 L462.30 638.59 L462.80 638.76 L463.30 638.93 L463.80 639.10 L464.30 639.27 L464.80 639.44 L465.30 639.61 L465.80 639.77 L466.30 639.94 L466.80 640.11 L467.30 640.28 L467.80 640.44 L468.30 640.61 L468.80 640.77 L469.30 640.94 L469.80 641.10 L470.30 641.27 L470.80 641.44 L471.30 641.60 L471.80 641.77 L472.30 641.93 L472.80 642.10 L473.30 642.27 L473.80 642.44 L474.30 642.61 L474.80 642.78 L475.30 642.95 L475.80 643.12 L476.30 643.30 L476.80 643.47 L477.30 643.64 L477.80 643.82 L478.30 643.99 L478.80 644.17 L479.30 644.34 L479.80 644.52" stroke="#0000ff" stroke-width="2" fill="none"/>
</g>
<polygon points="177.05,358.30 178.79,362.20 183.04,362.65 179.87,365.51 180.75,369.70 177.05,367.56 173.35,369.70 174.23,365.51 171.06,362.65 175.31,362.20" fill="#000"/>
<path d="M694.3 342.8A1.7 3.0 0 0 1 694.3 348.8Z" fill="#000"/>
<rect x="72.5" y="23.5" width="622.0" height="618.0" fill="none" stroke="#262626" stroke-width="1.1"/>
<line x1="72.5" y1="332.5" x2="694.5" y2="332.5" stroke="#262626" stroke-width="1.1"/>
<path d="M84.50 23.5V19.5M84.50 641.5V645.7M204.06 23.5V19.5M204.06 641.5V645.7M323.62 23.5V19.5M323.62 641.5V645.7M443.18 23.5V19.5M443.18 641.5V645.7M562.74 23.5V19.5M562.74 641.5V645.7M682.30 23.5V19.5M682.30 641.5V645.7M72.5 57.40H68.3M72.5 100.60H68.3M72.5 143.60H68.3M72.5 199.60H68.3M72.5 243.70H68.3M72.5 287.60H68.3M72.5 331.70H68.3M72.5 392.20H68.3M72.5 447.60H68.3M72.5 503.00H68.3M72.5 558.40H68.3M72.5 613.80H68.3M66.00 173.40L79.00 166.70M66.00 188.70L79.00 182.00M688.00 173.40L701.00 166.70M688.00 188.70L701.00 182.00" stroke="#262626" stroke-width="1.2" fill="none"/>
<g font-size="15.2" fill="#000" text-anchor="end">
<text transform="translate(64 63.60) scale(1 1.07)">240.0</text>
<text transform="translate(64 106.80) scale(1 1.07)">237.5</text>
<text transform="translate(64 149.80) scale(1 1.07)">235.0</text>
<text transform="translate(64 205.80) scale(1 1.07)">20</text>
<text transform="translate(64 249.90) scale(1 1.07)">10</text>
<text transform="translate(64 293.80) scale(1 1.07)">0</text>
<text transform="translate(64 337.90) scale(1 1.07)">−10</text>
<text transform="translate(64 398.40) scale(1 1.07)">15</text>
<text transform="translate(64 453.80) scale(1 1.07)">16</text>
<text transform="translate(64 509.20) scale(1 1.07)">17</text>
<text transform="translate(64 564.60) scale(1 1.07)">18</text>
<text transform="translate(64 620.00) scale(1 1.07)">19</text>
</g>
<g font-size="15.2" fill="#000" text-anchor="middle">
<text transform="translate(84.50 660.6) scale(1 1.07)">11.0</text>
<text transform="translate(204.06 660.6) scale(1 1.07)">11.2</text>
<text transform="translate(323.62 660.6) scale(1 1.07)">11.4</text>
<text transform="translate(443.18 660.6) scale(1 1.07)">11.6</text>
<text transform="translate(562.74 660.6) scale(1 1.07)">11.8</text>
<text transform="translate(682.30 660.6) scale(1 1.07)">12.0</text>
</g>
<text x="382.6" y="16.8" font-size="24.2" text-anchor="middle" fill="#000" stroke="#000" stroke-width="0.35">GRB230307A</text>
<g font-size="20.3" fill="#000"><text x="285.6" y="681.1">BJD</text><rect x="327.1" y="675.7" width="12" height="1.2"/><text x="346.0" y="681.1" font-size="20.0">2,460,000 (days)</text></g>
<g transform="translate(17.6 0) rotate(-90)" font-size="20.6" fill="#000"><text x="-203.8" y="0" textLength="35" lengthAdjust="spacingAndGlyphs">Flux</text><text x="-164.8" y="0">(</text><text x="-156.6" y="0" font-style="italic">e</text><text x="-137.4" y="0">s</text><text x="-117.5" y="-7.8" font-size="14.2">1</text><text x="-109.8" y="0">)</text></g><line x1="5.9" y1="127.8" x2="5.9" y2="118.9" stroke="#000" stroke-width="1.05"/>
<text transform="translate(40.7 487) rotate(-90)" font-size="19.9" text-anchor="middle" fill="#000">TESS mag</text>
<rect x="518.5" y="31.5" width="168" height="72" fill="#fff" stroke="#1a1a1a" stroke-width="1.2" rx="1"/>
<line x1="524.2" y1="42.8" x2="556.8" y2="42.8" stroke="#ff0000" stroke-width="1.8" stroke-dasharray="6.4 2.6"/>
<line x1="524.2" y1="65.9" x2="556.8" y2="65.9" stroke="#0000ff" stroke-width="1.8"/>
<line x1="524.2" y1="88.5" x2="556.8" y2="88.5" stroke="#ff0000" stroke-width="1.8"/>
<g font-size="15.5" fill="#000">
<text x="568.4" y="48.2"><tspan font-style="italic" font-size="16.4" letter-spacing="0.6">Fermi</tspan> Discovery</text>
<text x="568.4" y="71.4" letter-spacing="0.15">Double PL model</text>
<text x="568.4" y="93.6" letter-spacing="0.1">FRED model</text>
</g>
<rect x="413.5" y="339.5" width="274" height="171" fill="#fff" stroke="#1a1a1a" stroke-width="1.2" rx="1"/>
<g font-size="15.3" fill="#000">
<text x="424.0" y="353.5" letter-spacing="0.15">FRED Model</text>
<text x="424.0" y="370.1" letter-spacing="0.15">t<tspan dy="3" font-size="11.2">0</tspan><tspan dy="-3" dx="1.6"> (fit):</tspan></text>
<text x="593.8" y="370.1" text-anchor="end" letter-spacing="0.25">11.147</text>
<text x="597.6" y="370.1">+/</text><rect x="612.3" y="365.35" width="9.4" height="1.0" fill="#000"/>
<text x="648" y="370.1" text-anchor="middle">0.007</text>
<text x="424.0" y="386.6" letter-spacing="0.15">t<tspan dy="3" font-size="11.2">peak</tspan><tspan dy="-3" dx="1.6">:</tspan></text>
<text x="593.8" y="386.6" text-anchor="end" letter-spacing="0.25">11.2038</text>
<text x="597.6" y="386.6">+/</text><rect x="612.3" y="381.85" width="9.4" height="1.0" fill="#000"/>
<text x="648" y="386.6" text-anchor="middle">0.0005</text>
<text x="424.0" y="403.1" letter-spacing="0.15">t<tspan dy="3" font-size="11.2">exp</tspan><tspan dy="-3" dx="1.6"> (days):</tspan></text>
<text x="593.8" y="403.1" text-anchor="end" letter-spacing="0.25">0.23</text>
<text x="597.6" y="403.1">+/</text><rect x="612.3" y="398.35" width="9.4" height="1.0" fill="#000"/>
<text x="648" y="403.1" text-anchor="middle">0.03</text>
<text x="424.0" y="419.6" letter-spacing="0.15">t<tspan dy="3" font-size="11.2">rise</tspan><tspan dy="-3" dx="1.6"> (days):</tspan></text>
<text x="593.8" y="419.6" text-anchor="end" letter-spacing="0.25">0.057</text>
<text x="597.6" y="419.6">+/</text><rect x="612.3" y="414.85" width="9.4" height="1.0" fill="#000"/>
<text x="648" y="419.6" text-anchor="middle">0.007</text>
<text x="424.0" y="436.2" letter-spacing="0.15">t<tspan dy="3" font-size="11.2">90</tspan><tspan dy="-3" dx="1.6"> (days):</tspan></text>
<text x="593.8" y="436.2" text-anchor="end" letter-spacing="0.25">0.5</text>
<text x="597.6" y="436.2">+/</text><rect x="612.3" y="431.45" width="9.4" height="1.0" fill="#000"/>
<text x="648" y="436.2" text-anchor="middle">0.1</text>
<text x="424.0" y="456.0" letter-spacing="0.15">Double Power Law Model</text>
<text x="424.0" y="472.5" letter-spacing="0.15">t<tspan dy="3" font-size="11.2">break</tspan><tspan dy="-3" dx="1.6"> (days):</tspan></text>
<text x="593.8" y="472.5" text-anchor="end" letter-spacing="0.25">11.25</text>
<text x="597.6" y="472.5">+/</text><rect x="612.3" y="467.75" width="9.4" height="1.0" fill="#000"/>
<text x="648" y="472.5" text-anchor="middle">0.02</text>
<text x="424.0" y="489.0" letter-spacing="0.15"><tspan font-style="italic">α</tspan><tspan dy="3" font-size="11.2">1</tspan><tspan dy="-3" dx="1.6">:</tspan></text>
<text x="593.8" y="489.0" text-anchor="end" letter-spacing="0.25">0.6</text>
<text x="597.6" y="489.0">+/</text><rect x="612.3" y="484.25" width="9.4" height="1.0" fill="#000"/>
<text x="648" y="489.0" text-anchor="middle">0.2</text>
<text x="424.0" y="505.5" letter-spacing="0.15"><tspan font-style="italic">α</tspan><tspan dy="3" font-size="11.2">2</tspan><tspan dy="-3" dx="1.6">:</tspan></text>
<text x="593.8" y="505.5" text-anchor="end" letter-spacing="0.25">-0.23</text>
<text x="597.6" y="505.5">+/</text><rect x="612.3" y="500.75" width="9.4" height="1.0" fill="#000"/>
<text x="648" y="505.5" text-anchor="middle">0.08</text>
</g>
</svg></body></html>
